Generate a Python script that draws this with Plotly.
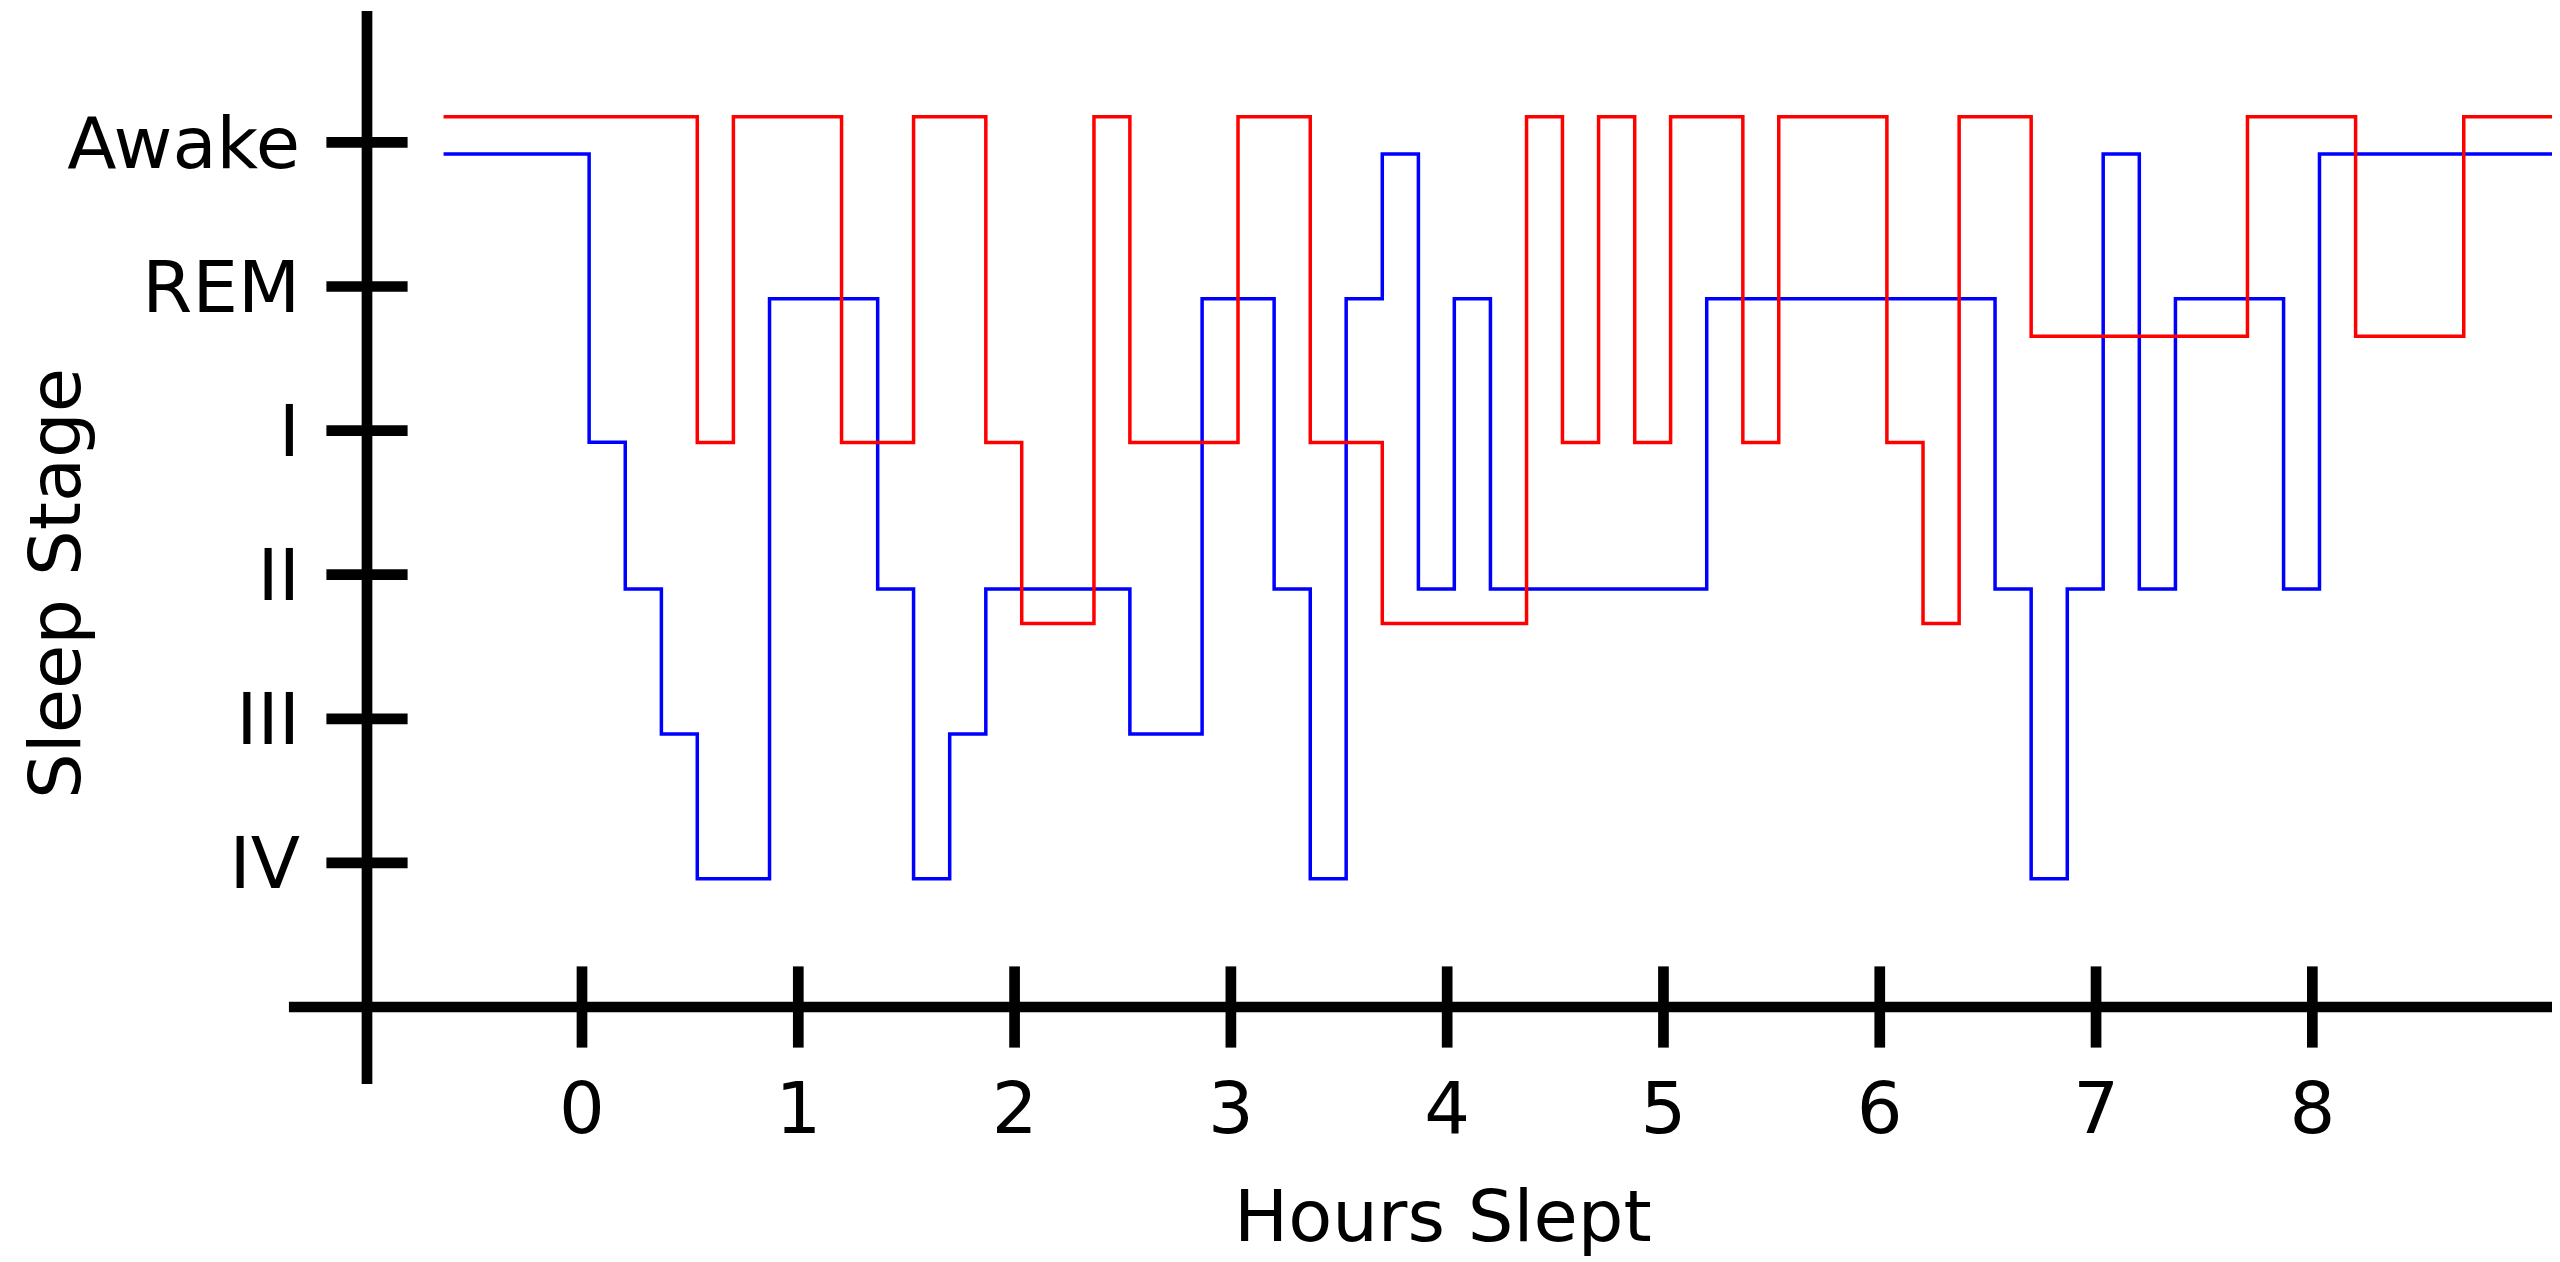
import plotly.graph_objects as go

# ---- data ----
stage_ticks = [0, 1, 2, 3, 4, 5]
stage_labels = ["IV", "III", "II", "I", "REM", "Awake"]
hour_ticks = [0, 1, 2, 3, 4, 5, 6, 7, 8]
hour_labels = ["0", "1", "2", "3", "4", "5", "6", "7", "8"]

blue_x = [-0.64, 0.033, 0.2, 0.367, 0.533, 0.867, 1.367, 1.533, 1.7, 1.867,
          2.533, 2.867, 3.2, 3.367, 3.533, 3.7, 3.867, 4.033, 4.2, 5.2,
          6.533, 6.7, 6.867, 7.033, 7.2, 7.367, 7.867, 8.033, 9.117]
blue_y = [4.92, 2.92, 1.9, 0.895, -0.11, 3.915, 1.9, -0.11, 0.895, 1.9,
          0.895, 3.915, 1.9, -0.11, 3.915, 4.92, 1.9, 3.915, 1.9, 3.915,
          1.9, -0.11, 1.9, 4.92, 1.9, 3.915, 1.9, 4.92, 4.92]

red_x = [-0.64, 0.533, 0.7, 1.2, 1.533, 1.867, 2.033, 2.367, 2.533, 3.033,
         3.367, 3.7, 4.367, 4.533, 4.7, 4.867, 5.033, 5.367, 5.533, 6.033,
         6.2, 6.367, 6.7, 7.7, 8.2, 8.7, 9.117]
red_y = [5.178, 2.917, 5.178, 2.917, 5.178, 2.917, 1.661, 5.178, 2.917, 5.178,
         2.917, 1.661, 5.178, 2.917, 5.178, 2.917, 5.178, 2.917, 5.178, 2.917,
         1.661, 5.178, 3.654, 5.178, 3.654, 5.178, 5.178]

# axis positions / ranges
AXIS_X = -0.994
AXIS_Y = -1.0
X_RANGE = [AXIS_X, 9.145]
Y_RANGE = [AXIS_Y, 5.912]

FONT = "DejaVu Sans"
FS = 72
AXW = 10.7

fig = go.Figure()

fig.add_trace(go.Scatter(x=blue_x, y=blue_y, mode="lines", line_shape="hv",
                         line=dict(color="#0000ff", width=3.5), hoverinfo="skip"))
fig.add_trace(go.Scatter(x=red_x, y=red_y, mode="lines", line_shape="hv",
                         line=dict(color="#ff0000", width=3.5), hoverinfo="skip"))

# crossing tick marks
fig.add_trace(go.Scatter(x=hour_ticks, y=[AXIS_Y] * len(hour_ticks), mode="markers",
                         marker=dict(symbol="line-ns", size=58,
                                     line=dict(color="black", width=AXW)),
                         cliponaxis=False, hoverinfo="skip"))
fig.add_trace(go.Scatter(x=[AXIS_X] * len(stage_ticks), y=stage_ticks, mode="markers",
                         marker=dict(symbol="line-ew", size=58,
                                     line=dict(color="black", width=AXW)),
                         cliponaxis=False, hoverinfo="skip"))

# axis lines (extend past the origin)
fig.add_shape(type="line", xref="paper", yref="paper", x0=0, x1=0, y0=-0.0773, y1=1.0,
              line=dict(color="black", width=AXW))
fig.add_shape(type="line", xref="paper", yref="paper", x0=-0.0356, x1=1.0, y0=0, y1=0,
              line=dict(color="black", width=AXW))

fig.add_annotation(text="Sleep Stage", xref="paper", yref="paper", x=-0.1423, y=0.4257,
                   textangle=-90, showarrow=False, xanchor="center", yanchor="middle",
                   font=dict(family=FONT, size=FS, color="black"))
fig.add_annotation(text="Hours Slept", xref="paper", yref="paper", x=0.4906, y=-0.2098,
                   showarrow=False, xanchor="center", yanchor="middle",
                   font=dict(family=FONT, size=FS, color="black"))

fig.update_layout(
    width=2552, height=1254,
    margin=dict(l=359, r=0, t=3, b=255, pad=0),
    paper_bgcolor="white", plot_bgcolor="white",
    showlegend=False,
    font=dict(family=FONT, size=FS, color="black"),
    xaxis=dict(range=X_RANGE, tickvals=hour_ticks, ticktext=hour_labels,
               showgrid=False, zeroline=False, showline=False, ticks="",
               ticklabelstandoff=53, automargin=False, fixedrange=True,
               tickfont=dict(family=FONT, size=FS, color="black")),
    yaxis=dict(range=Y_RANGE, tickvals=stage_ticks, ticktext=stage_labels,
               showgrid=False, zeroline=False, showline=False, ticks="",
               ticklabelstandoff=66, automargin=False, fixedrange=True,
               tickfont=dict(family=FONT, size=FS, color="black")),
)

fig.write_html("out.html")
